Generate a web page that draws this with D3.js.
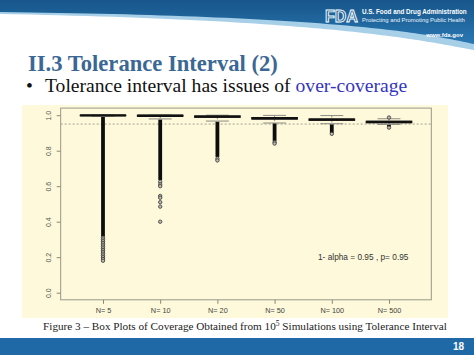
<!DOCTYPE html>
<html><head><meta charset="utf-8">
<script src="https://cdn.jsdelivr.net/npm/d3@7"></script>
<style>html,body{margin:0;padding:0;background:#fff;}svg{display:block;}</style>
</head><body>
<script>
// ---- data ----
const categories = ["N= 5","N= 10","N= 20","N= 50","N= 100","N= 500"];
const upperWhisker = [1.000, 1.000, 1.000, 0.999, 0.998, 0.980];
const q3           = [1.000, 1.000, 0.996, 0.987, 0.979, 0.966];
const median       = [0.999, 0.997, 0.992, 0.983, 0.975, 0.962];
const q1           = [0.997, 0.994, 0.988, 0.978, 0.971, 0.958];
const lowerWhisker = [0.995, 0.979, 0.967, 0.956, 0.952, 0.948];
// dense runs of overlapping outlier circles [top, bottom]
const outlierRunTop    = [0.990, 0.975, 0.963, 0.953, 0.948, 0.945];
const outlierRunBottom = [0.315, 0.635, 0.765, 0.855, 0.900, 0.935];
// isolated outliers
const outliers = [
  [0.31,0.30,0.29,0.28,0.27,0.26,0.25,0.24,0.23,0.22,0.21,0.20,0.19,0.18],
  [0.625,0.61,0.60,0.545,0.535,0.51,0.485,0.40],
  [0.755,0.745],
  [0.848,0.84],
  [0.895],
  [0.987,0.93]
];
const yTicks = [0,0.2,0.4,0.6,0.8,1.0];
const refLine = 0.95;
const annotation = "1- alpha = 0.95 , p= 0.95";

const W=474,H=355;
const svg=d3.select("body").append("svg").attr("width",W).attr("height",H);

// ---- slide decoration ----
const defs=svg.append("defs");
const g1=defs.append("linearGradient").attr("id","ban").attr("x1",0).attr("y1",0).attr("x2",0).attr("y2",1);
g1.append("stop").attr("offset","0%").attr("stop-color","#17568a");
g1.append("stop").attr("offset","100%").attr("stop-color","#2a78b3");
svg.append("path").attr("d","M0,0 H474 V50 C420,40 330,20 0,14 Z").attr("fill","#a8cfe8");
svg.append("path").attr("d","M0,0 H474 V44 C420,32 330,16 0,12 Z").attr("fill","url(#ban)");
// FDA logo
svg.append("text").attr("x",325).attr("y",22).attr("font-family","Liberation Sans, Arial").attr("font-weight","bold")
  .attr("font-size",16).attr("fill","none").attr("stroke","#fff").attr("stroke-width",0.9).text("FDA");
svg.append("text").attr("x",362).attr("y",14).attr("font-family","Liberation Sans, Arial").attr("font-weight","bold")
  .attr("font-size",6.3).attr("fill","#fff").text("U.S. Food and Drug Administration");
svg.append("text").attr("x",362).attr("y",21.5).attr("font-family","Liberation Sans, Arial")
  .attr("font-size",5.9).attr("fill","#eaf3fb").text("Protecting and Promoting Public Health");
svg.append("text").attr("x",463).attr("y",37).attr("text-anchor","end").attr("font-family","Liberation Sans, Arial").attr("font-weight","bold")
  .attr("font-size",6).attr("fill","#fff").text("www.fda.gov");

// title
svg.append("text").attr("x",28).attr("y",71).attr("font-family","Liberation Serif, DejaVu Serif, serif").attr("font-weight","bold")
  .attr("font-size",22.6).attr("fill","#3b6794").text("II.3 Tolerance Interval (2)");
svg.append("text").attr("x",26).attr("y",92).attr("font-family","Liberation Serif, DejaVu Serif, serif")
  .attr("font-size",19.6).attr("fill","#111").text("•");
const bl=svg.append("text").attr("x",45).attr("y",92).attr("font-family","Liberation Serif, DejaVu Serif, serif")
  .attr("font-size",19.6).attr("fill","#111");
bl.append("tspan").text("Tolerance interval has issues of ");
bl.append("tspan").attr("fill","#3535c0").text("over-coverage");

// bottom bar
svg.append("rect").attr("x",0).attr("y",338).attr("width",W).attr("height",17).attr("fill","#1f6aa6");
svg.append("text").attr("x",464).attr("y",350).attr("text-anchor","end").attr("font-family","Liberation Sans, Arial")
  .attr("font-weight","bold").attr("font-size",10).attr("fill","#fff").text("18");

// caption
const cap=svg.append("text").attr("x",245).attr("y",330).attr("text-anchor","middle")
  .attr("font-family","Liberation Serif, DejaVu Serif, serif").attr("font-size",11.2).attr("fill","#222");
cap.append("tspan").text("Figure 3 – Box Plots of Coverage Obtained from 10");
cap.append("tspan").attr("font-size",7.5).attr("dy",-4.5).text("5");
cap.append("tspan").attr("dy",4.5).text(" Simulations using Tolerance Interval");

// ---- chart ----
svg.append("rect").attr("x",22).attr("y",105).attr("width",426).attr("height",213).attr("fill","#fdf9da");

const x=d3.scaleLinear().domain([1,6]).range([103,389]);
const y=d3.scaleLinear().domain([0,1]).range([292.7,115.2]);
const step=x(2)-x(1), boxW=0.8*step;
const fx0=x(0.26), fx1=x(6.74), fy0=y(1.04), fy1=y(-0.04);

const plot=svg.append("g");
plot.append("line").attr("x1",fx0).attr("x2",fx1).attr("y1",y(refLine)).attr("y2",y(refLine))
  .attr("stroke","#8a8a80").attr("stroke-width",0.8).attr("stroke-dasharray","2,2");

categories.forEach((c,i)=>{
  const cx=x(i+1);
  const g=plot.append("g");
  g.append("line").attr("x1",cx).attr("x2",cx).attr("y1",y(upperWhisker[i])).attr("y2",y(q3[i]))
    .attr("stroke","#777").attr("stroke-width",0.8).attr("stroke-dasharray","2,2");
  g.append("line").attr("x1",cx).attr("x2",cx).attr("y1",y(q1[i])).attr("y2",y(lowerWhisker[i]))
    .attr("stroke","#777").attr("stroke-width",0.8).attr("stroke-dasharray","2,2");
  [upperWhisker[i],lowerWhisker[i]].forEach(v=>{
    g.append("line").attr("x1",cx-boxW/4).attr("x2",cx+boxW/4).attr("y1",y(v)).attr("y2",y(v))
      .attr("stroke","#8c8c84").attr("stroke-width",1);
  });
  g.append("line").attr("x1",cx).attr("x2",cx).attr("y1",y(outlierRunTop[i])).attr("y2",y(outlierRunBottom[i]))
    .attr("stroke","#0d0d0d").attr("stroke-width",3.8);
  g.selectAll("circle").data(outliers[i]).join("circle").attr("cx",cx).attr("cy",d=>y(d)).attr("r",1.7)
    .attr("fill","#bdbab0").attr("stroke","#333").attr("stroke-width",0.8);
  g.append("rect").attr("x",cx-boxW/2).attr("width",boxW).attr("y",y(q3[i])).attr("height",Math.max(0.1,y(q1[i])-y(q3[i])))
    .attr("fill","none").attr("stroke","#222").attr("stroke-width",1);
  g.append("line").attr("x1",cx-boxW/2).attr("x2",cx+boxW/2).attr("y1",y(median[i])).attr("y2",y(median[i]))
    .attr("stroke","#111").attr("stroke-width",2.4);
});

svg.append("rect").attr("x",fx0).attr("y",fy0).attr("width",fx1-fx0).attr("height",fy1-fy0)
  .attr("fill","none").attr("stroke","#9a988a").attr("stroke-width",1);

const ya=svg.append("g").attr("transform",`translate(${fx0},0)`)
  .call(d3.axisLeft(y).tickValues(yTicks).tickSize(4).tickFormat(d3.format(".1f")));
ya.select(".domain").remove();
ya.selectAll(".tick line").attr("stroke","#8a8878");
ya.selectAll(".tick text").attr("font-family","Liberation Sans, Arial").attr("font-size",7).attr("fill","#555")
  .attr("x",0).attr("dy",0).attr("text-anchor","middle")
  .attr("transform","translate(-10,0) rotate(-90)");

const xa=svg.append("g").attr("transform",`translate(0,${fy1})`)
  .call(d3.axisBottom(x).tickValues([1,2,3,4,5,6]).tickSize(4).tickFormat((d)=>categories[d-1]));
xa.select(".domain").remove();
xa.selectAll(".tick line").attr("stroke","#8a8878");
xa.selectAll(".tick text").attr("font-family","Liberation Sans, Arial").attr("font-size",7.3).attr("fill","#444").attr("y",8);

svg.append("text").attr("x",318).attr("y",260).attr("font-family","Liberation Sans, Arial")
  .attr("font-size",8.3).attr("fill","#333").text(annotation);
</script>
</body></html>
